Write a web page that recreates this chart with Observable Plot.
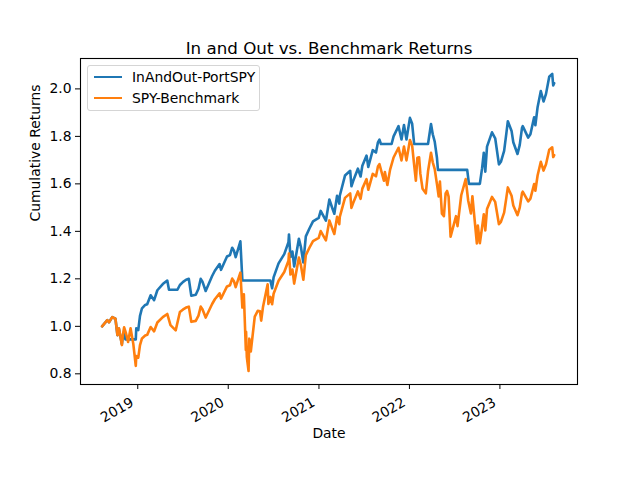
<!DOCTYPE html>
<html>
<head>
<meta charset="utf-8">
<script src="https://cdn.jsdelivr.net/npm/d3@7"></script>
<script src="https://cdn.jsdelivr.net/npm/@observablehq/plot@0.6"></script>
<style>
  html, body { margin: 0; padding: 0; background: #fff; }
  #wrap { position: relative; width: 640px; height: 480px; font-family: "DejaVu Sans", sans-serif; }
  #legend { position: absolute; left: 87px; top: 65px; width: 171px; height: 44px;
    border: 1px solid #d5d5d5; border-radius: 3px; background: rgba(255,255,255,0.8);
    font-size: 13.9px; color: #000; }
  .row { position: absolute; left: 0; height: 20px; display: flex; align-items: center; }
  .swatch { position: absolute; left: 6px; width: 28px; height: 0; border-top: 2.5px solid; }
  .lab { position: absolute; left: 44px; white-space: nowrap; }
</style>
</head>
<body>
<div id="wrap"></div>
<script>
// ---- data ----
const seriesNames = ["InAndOut-PortSPY", "SPY-Benchmark"];
const seriesColors = ["#1f77b4", "#ff7f0e"];

const spyDates = ["2018-08-10","2018-08-31","2018-09-07","2018-09-20","2018-10-03","2018-10-11","2018-10-17","2018-10-29","2018-11-02","2018-11-07","2018-11-15","2018-11-23","2018-12-03","2018-12-14","2018-12-24","2018-12-26","2019-01-03","2019-01-10","2019-01-18","2019-01-31","2019-02-08","2019-02-22","2019-03-08","2019-03-21","2019-04-12","2019-04-30","2019-05-13","2019-05-31","2019-06-03","2019-06-20","2019-07-03","2019-07-15","2019-07-26","2019-08-05","2019-08-23","2019-09-03","2019-09-12","2019-09-19","2019-10-02","2019-10-28","2019-11-08","2019-11-27","2019-12-03","2019-12-27","2020-01-08","2020-01-17","2020-01-24","2020-01-31","2020-02-19","2020-02-27","2020-03-04","2020-03-12","2020-03-13","2020-03-16","2020-03-23","2020-03-26","2020-04-01","2020-04-17","2020-04-29","2020-05-08","2020-05-13","2020-05-20","2020-06-08","2020-06-11","2020-06-19","2020-06-26","2020-07-02","2020-07-22","2020-08-14","2020-08-31","2020-09-02","2020-09-08","2020-09-16","2020-09-23","2020-10-12","2020-10-20","2020-10-30","2020-11-09","2020-11-24","2020-12-08","2020-12-31","2021-01-08","2021-01-29","2021-02-12","2021-02-25","2021-03-04","2021-03-15","2021-03-24","2021-03-26","2021-04-16","2021-05-07","2021-05-12","2021-05-19","2021-06-07","2021-06-18","2021-06-25","2021-07-12","2021-07-19","2021-08-06","2021-08-19","2021-08-27","2021-09-02","2021-09-20","2021-09-24","2021-10-04","2021-10-15","2021-10-29","2021-11-18","2021-11-30","2021-12-10","2021-12-20","2022-01-03","2022-01-12","2022-01-19","2022-01-27","2022-02-02","2022-02-09","2022-02-14","2022-02-23","2022-03-08","2022-03-17","2022-03-29","2022-04-05","2022-04-13","2022-04-22","2022-04-29","2022-05-04","2022-05-12","2022-05-20","2022-05-27","2022-06-02","2022-06-08","2022-06-16","2022-07-08","2022-07-14","2022-07-29","2022-08-16","2022-08-26","2022-09-06","2022-09-12","2022-09-30","2022-10-04","2022-10-12","2022-10-21","2022-10-28","2022-11-03","2022-11-10","2022-11-30","2022-12-13","2022-12-28","2023-01-05","2023-01-18","2023-01-27","2023-02-02","2023-02-17","2023-02-24","2023-03-13","2023-03-22","2023-03-31","2023-04-03","2023-04-25","2023-05-04","2023-05-19","2023-05-24","2023-06-02","2023-06-15","2023-06-26","2023-07-06","2023-07-19","2023-07-31","2023-08-04","2023-08-08"];
const spyValues = [1.000,1.026,1.017,1.039,1.032,0.963,0.992,0.921,0.964,0.996,0.969,0.934,0.992,0.926,0.833,0.875,0.868,0.921,0.949,0.961,0.964,0.997,0.979,1.016,1.039,1.052,1.005,0.986,0.983,1.060,1.071,1.079,1.083,1.019,1.023,1.045,1.083,1.072,1.037,1.094,1.114,1.139,1.117,1.168,1.173,1.201,1.190,1.165,1.226,1.079,1.135,0.900,0.977,0.870,0.812,0.948,0.894,1.041,1.065,1.063,1.024,1.080,1.177,1.094,1.124,1.093,1.137,1.192,1.229,1.276,1.307,1.218,1.239,1.180,1.290,1.258,1.196,1.300,1.332,1.359,1.373,1.401,1.362,1.446,1.408,1.389,1.461,1.430,1.461,1.541,1.560,1.499,1.519,1.568,1.537,1.580,1.620,1.575,1.642,1.632,1.673,1.683,1.613,1.650,1.595,1.660,1.711,1.752,1.699,1.757,1.699,1.785,1.761,1.689,1.613,1.710,1.712,1.643,1.579,1.560,1.653,1.731,1.691,1.662,1.599,1.547,1.610,1.474,1.464,1.560,1.570,1.546,1.378,1.464,1.422,1.552,1.620,1.530,1.475,1.548,1.349,1.424,1.350,1.416,1.472,1.404,1.494,1.545,1.524,1.430,1.440,1.479,1.542,1.585,1.550,1.509,1.468,1.500,1.560,1.567,1.526,1.538,1.599,1.571,1.635,1.693,1.656,1.683,1.744,1.754,1.713,1.721];

const ioDates = ["2018-08-10","2018-08-31","2018-09-07","2018-09-20","2018-10-03","2018-10-11","2018-10-17","2018-10-29","2018-11-02","2018-11-07","2018-11-12","2018-12-24","2018-12-26","2019-01-03","2019-01-10","2019-01-18","2019-01-31","2019-02-08","2019-02-22","2019-03-08","2019-03-21","2019-04-12","2019-04-30","2019-05-07","2019-06-10","2019-06-20","2019-07-03","2019-07-15","2019-07-26","2019-08-05","2019-08-23","2019-09-03","2019-09-12","2019-09-19","2019-10-02","2019-10-28","2019-11-08","2019-11-27","2019-12-03","2019-12-27","2020-01-08","2020-01-17","2020-01-24","2020-01-31","2020-02-19","2020-02-27","2020-06-19","2020-06-26","2020-07-02","2020-07-22","2020-08-14","2020-08-31","2020-09-02","2020-09-08","2020-09-16","2020-09-23","2020-10-12","2020-10-20","2020-10-30","2020-11-09","2020-11-24","2020-12-08","2020-12-31","2021-01-08","2021-01-29","2021-02-12","2021-02-25","2021-03-04","2021-03-15","2021-03-24","2021-03-26","2021-04-16","2021-05-07","2021-05-12","2021-05-19","2021-06-07","2021-06-18","2021-06-25","2021-07-12","2021-07-19","2021-08-06","2021-08-19","2021-08-27","2021-09-02","2021-09-08","2021-10-21","2021-10-29","2021-11-18","2021-11-30","2021-12-10","2021-12-20","2022-01-03","2022-01-12","2022-01-20","2022-03-17","2022-03-29","2022-04-05","2022-04-13","2022-04-22","2022-04-26","2022-08-22","2022-08-29","2022-10-12","2022-10-21","2022-10-28","2022-11-03","2022-11-10","2022-11-30","2022-12-13","2022-12-28","2023-01-05","2023-01-18","2023-01-27","2023-02-02","2023-02-17","2023-02-24","2023-03-13","2023-03-22","2023-03-31","2023-04-03","2023-04-25","2023-05-04","2023-05-19","2023-05-24","2023-06-02","2023-06-15","2023-06-26","2023-07-06","2023-07-19","2023-07-31","2023-08-04","2023-08-08"];
const ioValues = [1.000,1.026,1.017,1.039,1.032,0.963,0.990,0.925,0.960,0.975,0.945,0.945,0.992,0.984,1.044,1.076,1.090,1.093,1.131,1.110,1.152,1.178,1.193,1.154,1.154,1.174,1.187,1.196,1.200,1.129,1.133,1.158,1.200,1.188,1.149,1.212,1.234,1.262,1.238,1.294,1.300,1.331,1.319,1.291,1.358,1.193,1.193,1.160,1.206,1.265,1.304,1.354,1.387,1.292,1.315,1.252,1.369,1.335,1.269,1.379,1.413,1.442,1.457,1.486,1.445,1.534,1.494,1.474,1.550,1.517,1.550,1.635,1.655,1.590,1.612,1.664,1.631,1.676,1.719,1.671,1.742,1.732,1.775,1.786,1.768,1.768,1.800,1.843,1.787,1.848,1.787,1.878,1.853,1.768,1.768,1.852,1.809,1.778,1.710,1.659,1.659,1.600,1.600,1.665,1.731,1.651,1.757,1.817,1.792,1.682,1.693,1.739,1.813,1.864,1.823,1.775,1.726,1.764,1.835,1.843,1.795,1.809,1.880,1.847,1.923,1.991,1.947,1.979,2.051,2.063,2.015,2.024];

const yTicks = [0.8, 1.0, 1.2, 1.4, 1.6, 1.8, 2.0];
const xTickDates = ["2019-01-01","2020-01-01","2021-01-01","2022-01-01","2023-01-01"];
const xDomain = ["2018-05-15", "2023-11-10"];
const yDomain = [0.755, 2.128];
const titleText = "In and Out vs. Benchmark Returns";
const xLabel = "Date";
const yLabel = "Cumulative Returns";

// ---- build ----
const parse = d3.utcParse("%Y-%m-%d");
const ioData = ioDates.map((d, i) => ({date: parse(d), value: ioValues[i]}));
const spyData = spyDates.map((d, i) => ({date: parse(d), value: spyValues[i]}));
const xTicks = xTickDates.map(parse);
const font = "DejaVu Sans, sans-serif";

const chart = Plot.plot({
  width: 640,
  height: 480,
  marginLeft: 80,
  marginRight: 63,
  marginTop: 58,
  marginBottom: 96,
  style: {fontFamily: font, fontSize: "13.9px", color: "#000", background: "#fff"},
  x: {type: "utc", domain: xDomain.map(parse)},
  y: {domain: yDomain},
  marks: [
    Plot.line(ioData, {x: "date", y: "value", stroke: seriesColors[0], strokeWidth: 2.6, strokeLinejoin: "round"}),
    Plot.line(spyData, {x: "date", y: "value", stroke: seriesColors[1], strokeWidth: 2.6, strokeLinejoin: "round"}),
    Plot.frame({stroke: "#000", strokeWidth: 1.1}),
    Plot.axisY({ticks: yTicks, tickFormat: d3.format(".1f"), tickSize: 5, tickPadding: 4, label: null, fontSize: 13.9}),
    Plot.axisX({ticks: xTicks, tickFormat: () => "", tickSize: 5, label: null}),
    Plot.text(xTicks, {x: d => d, text: d3.utcFormat("%Y"), frameAnchor: "bottom", rotate: -30,
      textAnchor: "end", lineAnchor: "top", dx: -8, dy: 12, fontSize: 13.9, fill: "#000"}),
    Plot.text([titleText], {frameAnchor: "top", dy: -16, fontSize: 16.7, fill: "#000"}),
    Plot.text([xLabel], {frameAnchor: "bottom", dy: 53, fontSize: 13.9, fill: "#000"}),
    Plot.text([yLabel], {frameAnchor: "left", dx: -45, rotate: -90, fontSize: 13.9, fill: "#000"})
  ]
});
const wrap = document.getElementById("wrap");
wrap.appendChild(chart);

// legend (HTML overlay)
const legend = document.createElement("div");
legend.id = "legend";
seriesNames.forEach((name, i) => {
  const row = document.createElement("div");
  row.className = "row";
  row.style.top = (i === 0 ? 1 : 22) + "px";
  row.innerHTML = `<span class="swatch" style="border-color:${seriesColors[i]}"></span><span class="lab">${name}</span>`;
  legend.appendChild(row);
});
wrap.appendChild(legend);
</script>
</body>
</html>
